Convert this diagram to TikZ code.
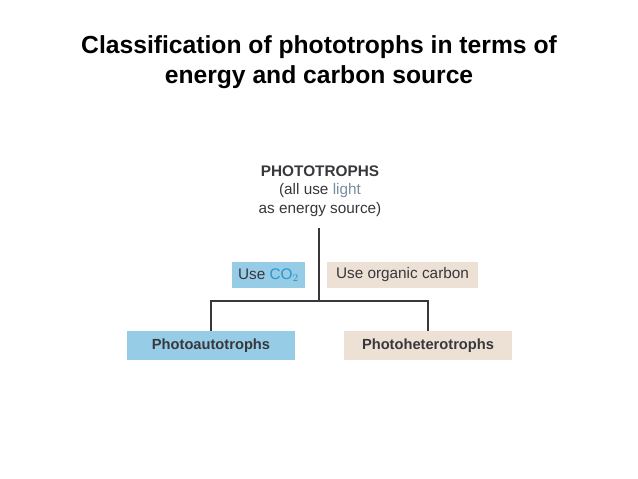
\documentclass[tikz,border=0pt]{standalone}
\usepackage{fontspec}
\setmainfont{Liberation Sans}
\usetikzlibrary{positioning}
\definecolor{autoblue}{RGB}{150,204,230}
\definecolor{hettan}{RGB}{237,225,213}
\definecolor{inkgray}{RGB}{55,55,60}
\definecolor{coblue}{RGB}{40,150,205}
\definecolor{lightgray}{RGB}{120,140,160}
\begin{document}
\begin{tikzpicture}[x=0.75pt, y=-0.75pt, box/.style={rectangle, inner sep=0pt, text=inkgray, font=\fontsize{11.5}{13}\selectfont}, group/.style={box, font=\fontsize{11}{13}\selectfont\bfseries, minimum width=126pt, minimum height=22pt}, source/.style={box, minimum height=19pt}, branch/.style={draw=inkgray, line width=1pt}]
			\useasboundingbox (0,0) rectangle (638,478);
			\node[align=center, font=\fontsize{18.5}{22.5}\selectfont\bfseries] (title) at (319,62) {Classification of phototrophs in terms of\\energy and carbon source};

			\node[box, align=center, font=\fontsize{11.5}{14}\selectfont] (photo) at (320,191) {\textbf{PHOTOTROPHS}\\(all use {\color{lightgray}light}\\as energy source)};

			\node[source, fill=autoblue, minimum width=55pt] (useco2) at (268.5,275) {Use {\color{coblue}CO$_2$}};
			\node[source, fill=hettan, minimum width=113pt] (useorg) at (402.5,275) {Use organic carbon};

			\node[group, fill=autoblue] (auto) at (211,345.5) {Photoautotrophs};
			\node[group, fill=hettan] (hetero) at (428,345.5) {Photoheterotrophs};

			\coordinate (top) at (319,228);
			\coordinate (split) at (319,301);
			\draw[branch] (top) -- (split);
			\draw[branch] (split) -| (auto.north);
			\draw[branch] (split) -| (hetero.north);
		\end{tikzpicture}
\end{document}
